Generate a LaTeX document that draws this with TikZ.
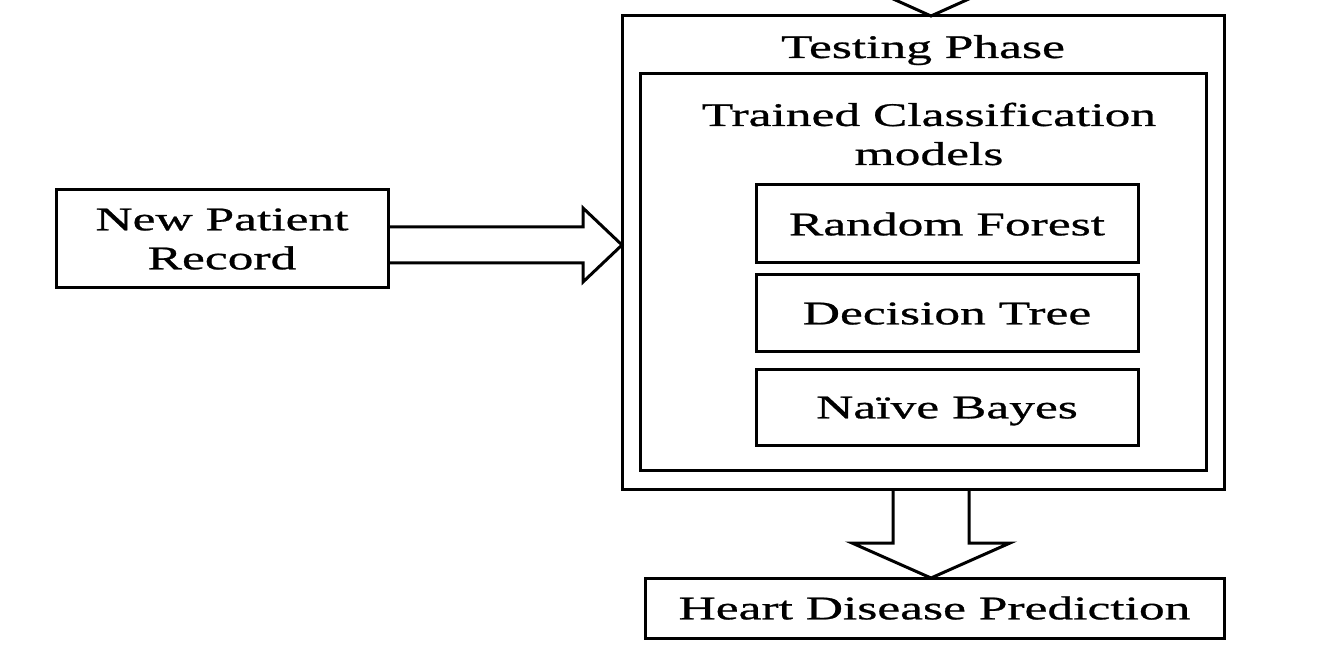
\documentclass[tikz,border=0pt]{standalone}
\usepackage{fontspec}
\setmainfont[FakeStretch=1.56, FakeBold=0.8]{Liberation Serif}
\usetikzlibrary{positioning, calc}
\tikzset{
    box/.style={draw, line width=1.5pt, inner sep=0pt, outer sep=0pt, align=center},
    modelbox/.style={box, minimum width=191pt, minimum height=38pt, text height=11.3pt, text depth=0pt},
    lbl/.style={inner sep=0pt, align=center},
    blockarrow/.style={draw, line width=1.5pt, line join=miter}
}
\begin{document}
\begin{tikzpicture}[x=0.5pt, y=-0.5pt, font=\fontsize{16.5}{19.5}\selectfont]
    \useasboundingbox (0,0) rectangle (1333,652);
    \node (test) [box, minimum width=301pt, minimum height=236.5pt] at (923,252.5) {};
    \node (models) [box, minimum width=283pt, minimum height=198pt] at (923,272) {};
    \node (phase) [lbl, anchor=base] at (923,58) {Testing Phase};
    \node (trained) [lbl] at (929,134) {Trained Classification\\models};
    \node (RF) [modelbox, minimum height=39pt] at (947,224) {Random Forest};
    \node (DT) [modelbox, below=6pt of RF] {Decision Tree};
    \node (NB) [modelbox, below=9pt of DT] {Naïve Bayes};
    \node (rec) [box, minimum width=166pt, minimum height=49pt] at (222,239) {New Patient\\Record};
    \node (pred) [box, minimum width=289.5pt, minimum height=30pt, text height=11.3pt, text depth=0pt] at (934.5,608) {Heart Disease Prediction};
    \coordinate (tipR) at (test.west |- 0,245);
    \coordinate (tipD) at (pred.north -| 931,0);
    \coordinate (tipT) at (test.north -| 931,0);
    % block arrows
    \draw[blockarrow] (rec.east |- 0,227) -- (583,227) -- (583,208) -- (tipR)
        -- (583,282) -- (583,263) -- (rec.east |- 0,263);
    \draw[blockarrow] (test.south -| 893,0) -- (893,543) -- (852,543) -- (tipD)
        -- (1010,543) -- (969,543) -- (test.south -| 969,0);
    \draw[blockarrow] (891,-2) -- (tipT) -- (971,-2);
\end{tikzpicture}
\end{document}
